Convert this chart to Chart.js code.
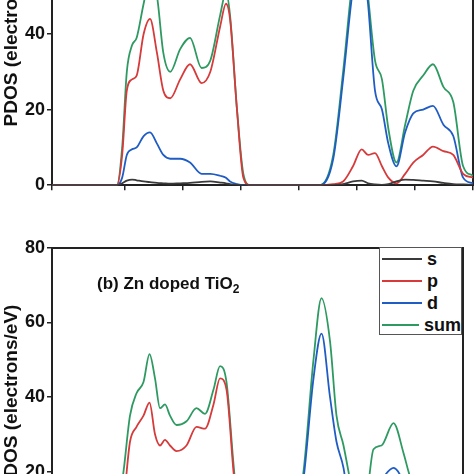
<!DOCTYPE html>
<html>
<head>
<meta charset="utf-8">
<script src="https://cdn.jsdelivr.net/npm/chart.js@4.4.1/dist/chart.umd.min.js"></script>
<style>
  body { margin: 0; width: 474px; height: 474px; overflow: hidden; background: #fff; position: relative; font-family: "Liberation Sans", Arial, sans-serif; }
  .box { position: absolute; left: 0; width: 474px; }
  #topBox { top: -130px; height: 328px; }
  #botBox { top: 235px; height: 324px; }
  #legend { position: absolute; left: 379px; top: 247px; width: 83px; height: 88px; border: 1.5px solid #555; background: #fff; box-sizing: border-box; }
  .row { display: flex; align-items: center; height: 22px; font-weight: bold; font-size: 18px; color: #111; }
  .row span.ln { display: inline-block; width: 40px; height: 2px; margin: 0 5px 0 2px; }
  #note { position: absolute; left: 97px; top: 274px; font-weight: bold; font-size: 17px; color: #111; }
  #note sub { font-size: 12px; }
</style>
</head>
<body>
<div class="box" id="topBox"><canvas id="topChart"></canvas></div>
<div class="box" id="botBox"><canvas id="botChart"></canvas></div>
<div id="note">(b) Zn doped TiO<sub>2</sub></div>
<div id="legend"></div>
<script>
"use strict";

const seriesNames = ["s", "p", "d", "sum"];
const seriesColors = ["#3a3a3a", "#d63a3a", "#1f5cc4", "#2e9a62"];

// (a) top panel, energy in eV
const topEnergy = [-5.3, -4.2, -4.14, -4.05, -3.97, -3.88, -3.8, -3.68, -3.57, -3.45, -3.34, -3.22, -3.05, -2.88, -2.68, -2.53, -2.36, -2.26, -2.19, -2.07, -1.96, -1.84, -1.7,
    -0.7, -0.64, -0.41, -0.24, -0.07, 0.08, 0.19, 0.31, 0.43, 0.54, 0.68, 0.83, 0.97, 1.14, 1.31, 1.49, 1.66, 1.83, 2.0];
const topS = [0, 0, 0, 0.5, 1.2, 1.5, 1.3, 1, 0.8, 0.6, 0.5, 0.4, 0.5, 0.6, 0.9, 1, 0.7, 0.5, 0.3, 0.1, 0, 0, 0,
    0, 0, 0, 0.3, 1, 1.2, 0.5, 0.2, 0.1, 0.3, 1, 1.5, 1.4, 1.2, 1, 0.6, 0.3, 0.2, 0.1];
const topP = [0, 0, 0, 8, 25, 28, 29, 40, 44, 35, 25, 23, 28, 32, 27, 30, 42, 48, 44, 20, 2, 0, 0,
    0, 0, 0.3, 1, 5, 9.5, 8, 8.5, 5, 2, 0.5, 3, 6, 8, 10.2, 9, 8, 3, 2];
const topD = [0, 0, 0, 2, 8, 9.5, 10, 13, 14, 11, 8, 7, 7, 6, 3, 3, 2.5, 2, 1, 0.3, 0, 0, 0,
    0, 0, 7, 28, 52, 62, 48, 25, 20, 11, 5, 14, 19, 20, 21, 16, 13, 2, 0.5];
const topSum = [0, 0, 0, 10, 30, 37, 39, 48, 55, 50, 35, 30, 36, 39, 31, 33, 45, 51, 45, 20, 3, 0, 0,
    0, 0, 8, 30, 55, 65, 50, 33, 28, 15, 6, 16, 25, 29, 32, 26, 22, 5, 2.5];

// (b) Zn doped TiO2
const botEnergy = [-4.9, -3.8, -3.67, -3.47, -3.34, -3.21, -3.07, -2.95, -2.84, -2.74, -2.64, -2.54, -2.41, -2.21, -2.01, -1.84, -1.67, -1.54, -1.41, -1.27, -1.14, -1.01,
    -0.27, -0.07, 0.13, 0.33, 0.49, 0.66, 0.79, 0.93, 1.03, 1.19, 1.36, 1.53, 1.69, 1.93, 2.13, 2.23, 2.46, 2.73, 2.99, 3.33];
const botS = [0, 0, 0, 0.5, 1, 1.3, 1.2, 1, 0.8, 0.7, 0.6, 0.5, 0.5, 0.6, 0.8, 0.9, 0.8, 0.6, 0.4, 0.2, 0, 0,
    0, 0, 0.2, 0.5, 0.8, 0.6, 0.4, 0.3, 0.2, 0.2, 0.3, 0.8, 1, 1, 0.8, 0.5, 0.3, 0.2, 0.1, 0];
const botP = [0, 0, 1.5, 12, 28, 32, 35, 38.5, 30, 27, 28.5, 27, 25.5, 27, 32, 31.5, 38, 45, 42, 20, 3, 0,
    0, 0.5, 1.5, 3, 5, 4.5, 4, 3.5, 3, 2, 2, 5, 6, 7, 5, 5, 3, 1.5, 0.8, 0.4];
const botD = [0, 0, 0.5, 5, 9, 10, 11, 12, 10, 8, 7, 6.5, 6, 6, 4, 3, 2.5, 2, 1.5, 0.5, 0, 0,
    0, 4, 18, 45, 57, 40, 28, 21, 12, 5, 6, 16, 18, 21, 17, 12, 6, 2, 1, 0.5];
const botSum = [0, 0, 2, 20, 35, 41, 44, 51.5, 45, 37, 38, 35, 32.5, 33.5, 37, 35.5, 42, 48.3, 44, 22, 4, 0,
    0, 5, 20, 50, 66.5, 55, 35, 27, 20, 8, 10, 26, 27, 33, 25, 20, 10, 4, 2, 1];

function makeDatasets(xs, cols) {
    return cols.map((ys, i) => ({
        label: seriesNames[i],
        data: xs.map((x, k) => ({ x, y: ys[k] })),
        borderColor: seriesColors[i],
        borderWidth: 1.8,
        pointRadius: 0,
        cubicInterpolationMode: "monotone",
        fill: false,
    }));
}

function makeChart(id, xs, cols, xMin, xMax, xStep, padRight, showTop) {
    const axisFont = { family: "Liberation Sans, Arial", weight: "bold", size: 18 };
    return new Chart(document.getElementById(id), {
        type: "line",
        data: { datasets: makeDatasets(xs, cols) },
        options: {
            responsive: true,
            maintainAspectRatio: false,
            animation: false,
            layout: { padding: { top: 12, right: padRight, left: 0, bottom: 0 } },
            plugins: { legend: { display: false }, tooltip: { enabled: false } },
            scales: {
                x: {
                    type: "linear",
                    min: xMin,
                    max: xMax,
                    ticks: { display: false, stepSize: xStep },
                    grid: { drawOnChartArea: false, tickLength: 5, color: "#222", lineWidth: 1.5 },
                    border: { color: "#222", width: 2 },
                    afterFit: (s) => { s.height = 10; },
                },
                xTop: {
                    type: "linear",
                    position: "top",
                    display: showTop,
                    min: xMin,
                    max: xMax,
                    ticks: { display: false, stepSize: xStep },
                    grid: { drawOnChartArea: false, drawTicks: false },
                    border: { color: "#222", width: 2 },
                    afterFit: (s) => { s.height = 0; },
                },
                y: {
                    min: 0,
                    max: 80,
                    ticks: { stepSize: 20, color: "#111", font: axisFont, padding: 2 },
                    grid: { drawOnChartArea: false, tickLength: 5, color: "#222", lineWidth: 1.5 },
                    border: { color: "#222", width: 2 },
                    title: {
                        display: true,
                        text: "PDOS (electrons/eV)",
                        color: "#111",
                        font: { family: "Liberation Sans, Arial", weight: "bold", size: 19 },
                        padding: 0,
                    },
                    afterFit: (s) => { s.width = 52; },
                },
                yRight: {
                    position: "right",
                    min: 0,
                    max: 80,
                    ticks: { display: false },
                    grid: { drawOnChartArea: false, drawTicks: false },
                    border: { color: "#222", width: 2 },
                    afterFit: (s) => { s.width = 0; },
                },
            },
        },
    });
}

makeChart("topChart", topEnergy, [topS, topP, topD, topSum], -5.26, 2.0, 1, 1, true);
makeChart("botChart", botEnergy, [botS, botP, botD, botSum], -4.9, 3.32, 1, 11, true);

// legend for the lower panel
const legend = document.getElementById("legend");
seriesNames.forEach((name, i) => {
    const row = document.createElement("div");
    row.className = "row";
    row.innerHTML = `<span class="ln" style="background:${seriesColors[i]}"></span>${name}`;
    legend.appendChild(row);
});
</script>
</body>
</html>
